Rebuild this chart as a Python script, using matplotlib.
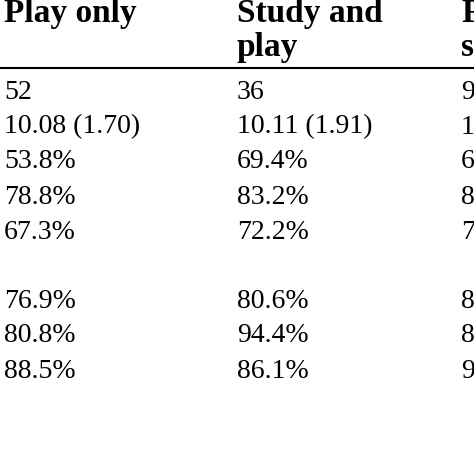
import matplotlib.pyplot as plt

plt.rcParams['font.family'] = ['Liberation Serif', 'DejaVu Serif']

headers = [["Play only"], ["Study and", "play"], ["F", "s"]]
col1 = ["52", "10.08 (1.70)", "53.8%", "78.8%", "67.3%", "", "76.9%", "80.8%", "88.5%"]
col2 = ["36", "10.11 (1.91)", "69.4%", "83.2%", "72.2%", "", "80.6%", "94.4%", "86.1%"]
col3 = ["9", "1", "6", "8", "7", "", "8", "8", "9"]

fig = plt.figure(figsize=(4.74, 4.74), dpi=100)
ax = fig.add_axes([0, 0, 1, 1])
ax.set_xlim(0, 474)
ax.set_ylim(474, 0)
ax.axis('off')

col_x = [4, 237, 461]
for x, h in zip(col_x, headers):
    for i, line in enumerate(h):
        ax.text(x, 13 + i * 34, line, fontsize=24, fontweight='bold',
                va='center', ha='left')

ax.plot([0, 474], [68, 68], color='black', lw=1.5)

row_y = [92, 127, 162, 197, 232, 266, 301, 336, 372]
for x, col in zip(col_x, [col1, col2, col3]):
    for y, v in zip(row_y, col):
        ax.text(x, y, v, fontsize=20, va='center', ha='left')

fig.savefig('out.png', dpi=100)
